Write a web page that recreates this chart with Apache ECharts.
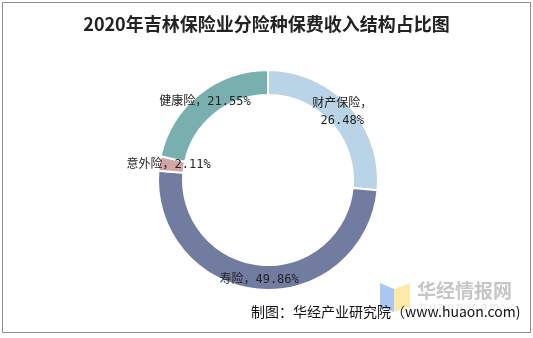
<!DOCTYPE html>
<html>
<head>
<meta charset="utf-8">
<script src="https://cdn.jsdelivr.net/npm/echarts@6/dist/echarts.min.js"></script>
<style>
  html, body { margin: 0; padding: 0; background: #fff; }
  #chart { width: 533px; height: 338px; }
</style>
</head>
<body>
<div id="chart"></div>
<script>
// 2020年吉林保险业分险种保费收入结构占比（%）
const categories = ['财产保险', '寿险', '意外险', '健康险'];
const shares = [26.48, 49.86, 2.11, 21.55];
const sliceColors = ['#b8d4e6', '#727ca0', '#d4a5a5', '#7aafb0'];

const titleText = '2020年吉林保险业分险种保费收入结构占比图';
const sourceText = '制图：华经产业研究院（www.huaon.com)';

const chart = echarts.init(document.getElementById('chart'), null, { renderer: 'canvas' });

const labelFont = '"DejaVu Sans Mono", "Noto Sans CJK SC", monospace';

chart.setOption({
  backgroundColor: '#ffffff',
  animation: false,
  title: {
    text: titleText,
    left: 'center',
    top: 10,
    textStyle: {
      fontFamily: '"Noto Sans CJK SC", serif',
      fontWeight: 'bold',
      fontSize: 18,
      color: '#222'
    }
  },
  graphic: [
    {
      type: 'rect',
      shape: { x: 2.5, y: 2.5, width: 528, height: 330 },
      style: { fill: 'none', stroke: '#8c8c8c', lineWidth: 1 },
      silent: true
    },
    // watermark logo
    {
      type: 'polygon',
      shape: { points: [[380, 283], [394, 289], [394, 312], [380, 307]] },
      style: { fill: '#a9c9f3' },
      silent: true
    },
    {
      type: 'polygon',
      shape: { points: [[394, 289], [410, 283], [410, 307], [394, 312]] },
      style: { fill: '#fbeaa8' },
      silent: true
    },
    {
      type: 'text',
      left: 417,
      top: 281,
      style: {
        text: '华经情报网',
        fill: '#c6c6c6',
        font: 'bold 19px "Noto Sans CJK SC", sans-serif'
      },
      silent: true
    },
    {
      type: 'text',
      left: 420,
      top: 301,
      style: {
        text: 'h u a o n . c o m',
        fill: '#e6e6e6',
        font: '11px "Liberation Sans", sans-serif'
      },
      silent: true
    },
    {
      type: 'text',
      left: 251,
      top: 305,
      style: {
        text: sourceText,
        fill: '#111',
        font: '14px "Noto Sans CJK SC", "Liberation Sans", sans-serif'
      },
      silent: true
    }
  ],
  series: [
    {
      type: 'pie',
      center: [268, 180],
      radius: [85, 110],
      startAngle: 90,
      clockwise: true,
      avoidLabelOverlap: false,
      itemStyle: { borderColor: '#ffffff', borderWidth: 2 },
      label: {
        show: true,
        position: 'inside',
        fontFamily: labelFont,
        fontSize: 12,
        lineHeight: 17,
        color: '#222',
        formatter: function (p) {
          const v = p.value.toFixed(2) + '%';
          return p.name === '财产保险' ? p.name + '，\n' + v : p.name + '，' + v;
        }
      },
      labelLine: { show: false },
      emphasis: { disabled: true },
      data: categories.map((name, i) => ({
        name: name,
        value: shares[i],
        itemStyle: { color: sliceColors[i] }
      }))
    }
  ]
});
</script>
</body>
</html>
